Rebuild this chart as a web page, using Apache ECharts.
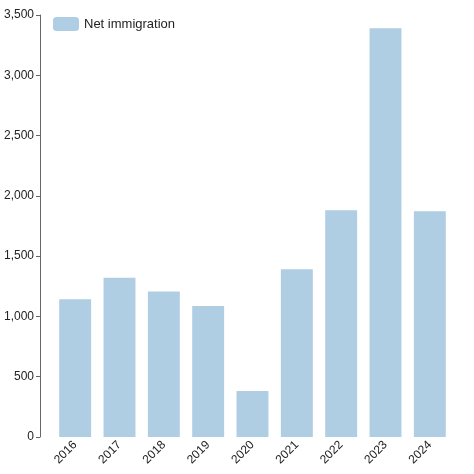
<!DOCTYPE html>
<html><head><meta charset="utf-8">
<script src="https://cdn.jsdelivr.net/npm/echarts@6/dist/echarts.min.js"></script>
<style>html,body{margin:0;padding:0;background:#fff}#c{width:474px;height:474px}</style>
</head><body><div id="c"></div>
<script>
var years = ['2016', '2017', '2018', '2019', '2020', '2021', '2022', '2023', '2024'];
var netImmigration = [1142, 1320, 1207, 1086, 381, 1392, 1881, 3390, 1872];
var yTicks = [0, 500, 1000, 1500, 2000, 2500, 3000, 3500];

var chart = echarts.init(document.getElementById('c'));
chart.setOption({
  animation: false,
  textStyle: { fontFamily: 'Liberation Sans, Arial, sans-serif' },
  legend: {
    left: 48, top: 12, itemWidth: 26, itemHeight: 14, itemGap: 8,
    textStyle: { fontSize: 13, color: '#222' },
    data: ['Net immigration']
  },
  grid: { left: 53, right: 22, top: 15, bottom: 37 },
  xAxis: {
    type: 'category', data: years,
    axisLine: { show: false }, axisTick: { show: false },
    axisLabel: { rotate: 45, fontSize: 12, color: '#222', margin: 6 }
  },
  yAxis: {
    type: 'value', min: 0, max: 3500, interval: 500, offset: 13,
    axisLine: { show: true, lineStyle: { color: '#666' } },
    axisTick: { show: true, length: 4, lineStyle: { color: '#666' } },
    splitLine: { show: false },
    axisLabel: {
      fontSize: 12, color: '#222', margin: 6,
      formatter: function (v) { return yTicks.indexOf(v) >= 0 ? v.toLocaleString('en-US') : ''; }
    }
  },
  series: [{
    name: 'Net immigration', type: 'bar', data: netImmigration,
    barCategoryGap: '28%', itemStyle: { color: '#afcde3' }
  }]
});
</script></body></html>
